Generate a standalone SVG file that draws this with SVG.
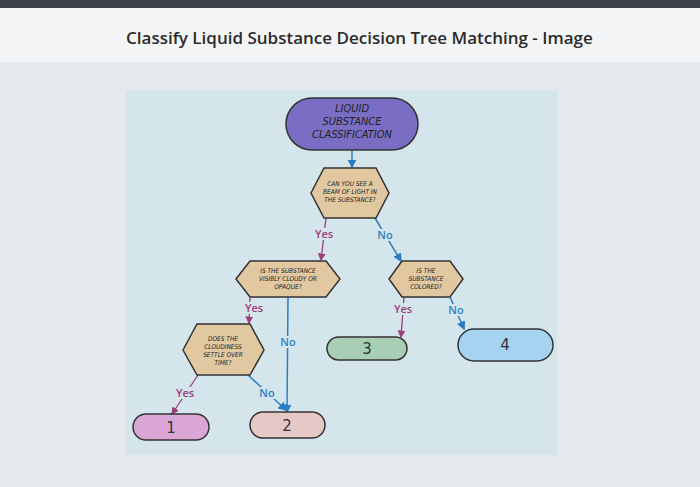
<svg xmlns="http://www.w3.org/2000/svg" width="700" height="487" viewBox="0 0 700 487">
<style>
.hex{fill:#e2c8a0;stroke:#333;stroke-width:1.5}
.q{font-family:"Comic Sans MS","DejaVu Sans Condensed",sans-serif;font-size:6.5px;fill:#222;text-anchor:middle;font-style:italic}
.big{font-size:11px}
.t{font-family:"DejaVu Sans",sans-serif;font-size:15px;fill:#333;text-anchor:middle}
.y{font-family:"Open Sans",sans-serif;font-size:11px;fill:#9b3f7c;text-anchor:middle;font-weight:600}
.n{font-family:"Open Sans",sans-serif;font-size:11px;fill:#2a7fc4;text-anchor:middle;font-weight:600}
.ly{stroke:#9b3f7c;stroke-width:1.3;fill:none;marker-end:url(#ay)}
.ln{stroke:#2a7fc4;stroke-width:1.5;fill:none;marker-end:url(#an)}
.term{stroke:#333;stroke-width:1.5}
.bg{fill:#d5e5ec}
</style>
<defs>
<marker id="ay" markerWidth="6" markerHeight="6" refX="5" refY="3" orient="auto"><path d="M0,0L6,3L0,6z" fill="#9b3f7c"/></marker>
<marker id="an" markerWidth="6" markerHeight="6" refX="5" refY="3" orient="auto"><path d="M0,0L6,3L0,6z" fill="#2a7fc4"/></marker>
</defs>
<rect width="700" height="487" fill="#e6e9ec"/>
<rect width="700" height="8" fill="#3c4048"/>
<rect x="0" y="8" width="700" height="54" fill="#f4f5f6"/>
<text x="126" y="44" font-family="Open Sans,sans-serif" font-size="17" font-weight="600" fill="#2b2b2b">Classify Liquid Substance Decision Tree Matching - Image</text>
<rect x="125" y="90" width="432" height="365" fill="#d5e5ec"/>
<g id="connectors">
<line x1="352" y1="150" x2="352" y2="167" class="ln"/>
<line x1="326" y1="218" x2="321" y2="260" class="ly"/>
<line x1="375" y1="218" x2="401" y2="261" class="ln"/>
<line x1="250" y1="297" x2="249" y2="323" class="ly"/>
<line x1="288" y1="297" x2="287" y2="412" class="ln"/>
<line x1="404" y1="297" x2="401" y2="337" class="ly"/>
<line x1="450" y1="297" x2="464" y2="329" class="ln"/>
<line x1="198" y1="375" x2="172" y2="414" class="ly"/>
<line x1="248" y1="375" x2="286" y2="410" class="ln"/>
</g>
<g id="edge-labels">
<rect class="bg" x="312" y="228" width="24" height="12"/><text x="324" y="238" class="y">Yes</text>
<rect class="bg" x="376" y="229" width="18" height="12"/><text x="385" y="239" class="n">No</text>
<rect class="bg" x="242" y="302" width="24" height="12"/><text x="254" y="312" class="y">Yes</text>
<rect class="bg" x="391" y="303" width="24" height="12"/><text x="403" y="313" class="y">Yes</text>
<rect class="bg" x="447" y="304" width="18" height="12"/><text x="456" y="314" class="n">No</text>
<rect class="bg" x="279" y="336" width="18" height="12"/><text x="288" y="346" class="n">No</text>
<rect class="bg" x="173" y="387" width="24" height="12"/><text x="185" y="397" class="y">Yes</text>
<rect class="bg" x="258" y="387" width="18" height="12"/><text x="267" y="397" class="n">No</text>
</g>
<g id="start">
<rect x="286" y="98" width="132" height="52" rx="26" fill="#7a6ec4" class="term"/>
<text class="q big" x="352" y="112">LIQUID</text>
<text class="q big" x="352" y="125">SUBSTANCE</text>
<text class="q big" x="352" y="138">CLASSIFICATION</text>
</g>
<g id="q1">
<polygon class="hex" points="311,193 324,168 376,168 389,193 376,218 324,218"/>
<text class="q" x="350" y="186">CAN YOU SEE A</text>
<text class="q" x="350" y="194">BEAM OF LIGHT IN</text>
<text class="q" x="350" y="202">THE SUBSTANCE?</text>
</g>
<g id="q2">
<polygon class="hex" points="236,279 250,261 326,261 340,279 326,297 250,297"/>
<text class="q" x="288" y="273">IS THE SUBSTANCE</text>
<text class="q" x="288" y="281">VISIBLY CLOUDY OR</text>
<text class="q" x="288" y="289">OPAQUE?</text>
</g>
<g id="q3">
<polygon class="hex" points="389,279 402,261 450,261 463,279 450,297 402,297"/>
<text class="q" x="426" y="273">IS THE</text>
<text class="q" x="426" y="281">SUBSTANCE</text>
<text class="q" x="426" y="289">COLORED?</text>
</g>
<g id="q4">
<polygon class="hex" points="183,350 197,324 250,324 264,350 250,375 197,375"/>
<text class="q" x="223" y="341">DOES THE</text>
<text class="q" x="223" y="349">CLOUDINESS</text>
<text class="q" x="223" y="357">SETTLE OVER</text>
<text class="q" x="223" y="365">TIME?</text>
</g>
<g id="r1"><rect x="133" y="414" width="76" height="26" rx="13" fill="#d9a6d6" class="term"/><text class="t" x="171" y="433">1</text></g>
<g id="r2"><rect x="250" y="412" width="75" height="26" rx="13" fill="#e6c8c6" class="term"/><text class="t" x="287" y="431">2</text></g>
<g id="r3"><rect x="327" y="337" width="80" height="23" rx="11.5" fill="#a9ceb6" class="term"/><text class="t" x="367" y="354">3</text></g>
<g id="r4"><rect x="458" y="329" width="95" height="32" rx="16" fill="#a6d3f2" class="term"/><text class="t" x="505" y="350">4</text></g>
</svg>
